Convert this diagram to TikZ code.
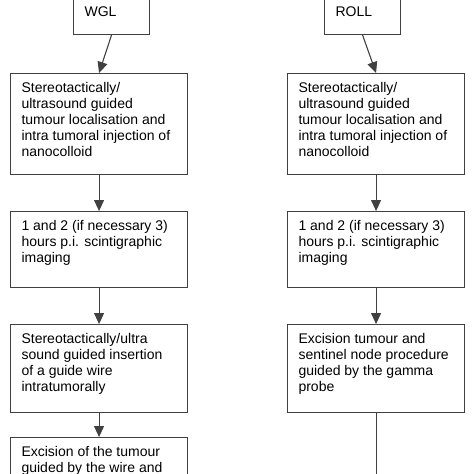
\documentclass[tikz,border=0pt]{standalone}
\usepackage{fontspec}
\setmainfont{Liberation Sans}
\usetikzlibrary{arrows.meta}

\newcommand{\boxlines}[2]{\parbox[t][#1][t]{155pt}{\raggedright #2}}

\tikzset{
  stepbox/.style={draw=black!75, line width=1.1pt, inner xsep=11pt, inner ysep=8.5pt, anchor=north west, font=\fontsize{14}{16}\selectfont},
  headbox/.style={draw=black!75, line width=1.1pt, anchor=south west, minimum width=76pt, minimum height=45pt, text width=54pt, inner xsep=11pt, align=left, font=\fontsize{14}{16}\selectfont},
  flow/.style={draw=black!75, line width=1.1pt, -{Triangle[length=11pt,width=10pt]}},
}

\begin{document}
\begin{tikzpicture}[x=1pt,y=1pt,yscale=-1,xscale=1]
\useasboundingbox (0,0) rectangle (474,474);

%Heads
\node[headbox] (wgl) at (73,35) {WGL};
\node[headbox] (roll) at (324,35) {ROLL};

%WGL column
\node[stepbox] (w1) at (10,73) {\boxlines{84pt}{Stereotactically/\\ultrasound guided\\tumour localisation and\\intra tumoral injection of\\nanocolloid}};
\node[stepbox] (w2) at (10,211) {\boxlines{59pt}{1 and 2 (if necessary 3)\\hours p.i. scintigraphic\\imaging}};
\node[stepbox] (w3) at (10,324) {\boxlines{71pt}{Stereotactically/ultra\\sound guided insertion\\of a guide wire\\intratumorally}};
\node[stepbox] (w4) at (10,437) {\boxlines{71pt}{Excision of the tumour\\guided by the wire and}};

%ROLL column
\node[stepbox] (r1) at (287,73) {\boxlines{84pt}{Stereotactically/\\ultrasound guided\\tumour localisation and\\intra tumoral injection of\\nanocolloid}};
\node[stepbox] (r2) at (287,211) {\boxlines{59pt}{1 and 2 (if necessary 3)\\hours p.i. scintigraphic\\imaging}};
\node[stepbox] (r3) at (287,324) {\boxlines{71pt}{Excision tumour and\\sentinel node procedure\\guided by the gamma\\probe}};
\coordinate (rend) at (r3.south |- 0,490);

%Arrows
\draw[flow] (wgl.south) -- (w1.north);
\draw[flow] (w1) -- (w2);
\draw[flow] (w2) -- (w3);
\draw[flow] (w3) -- (w4);
\draw[flow] (roll.south) -- (r1.north);
\draw[flow] (r1) -- (r2);
\draw[flow] (r2) -- (r3);
\draw[draw=black!75, line width=1.1pt] (r3) -- (rend);

\end{tikzpicture}
\end{document}
